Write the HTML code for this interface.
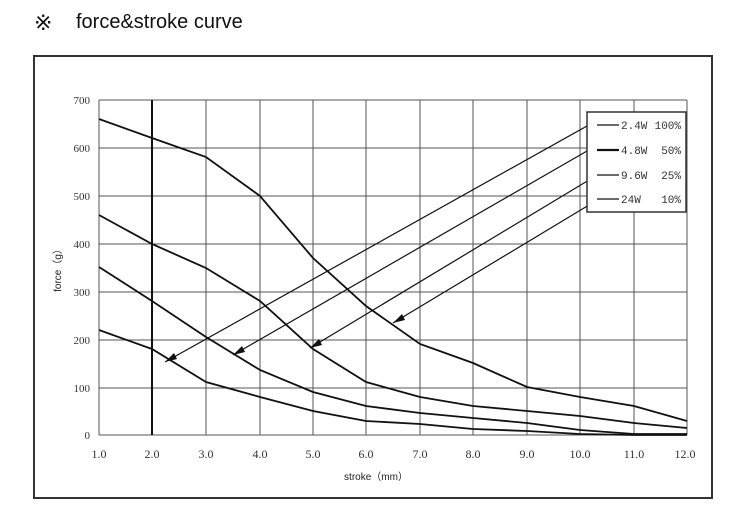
<!DOCTYPE html>
<html><head><meta charset="utf-8"><style>
body{margin:0;background:#fff;width:750px;height:516px;overflow:hidden}
svg{display:block}
</style></head><body>
<svg width="750" height="516" xmlns="http://www.w3.org/2000/svg" font-family="Liberation Sans, sans-serif">
<text x="34" y="30" font-size="22" fill="#111">※</text>
<text x="76" y="28" font-size="20" fill="#111">force&amp;stroke curve</text>
<rect x="34" y="56" width="678" height="442" fill="none" stroke="#333" stroke-width="2"/>
<g stroke="#555" stroke-width="1">
<line x1="99" y1="100" x2="687" y2="100"/><line x1="99" y1="148" x2="687" y2="148"/>
<line x1="99" y1="196" x2="687" y2="196"/><line x1="99" y1="244" x2="687" y2="244"/>
<line x1="99" y1="292" x2="687" y2="292"/><line x1="99" y1="340" x2="687" y2="340"/>
<line x1="99" y1="388" x2="687" y2="388"/><line x1="99" y1="435" x2="687" y2="435"/>
<line x1="99" y1="100" x2="99" y2="435"/><line x1="206" y1="100" x2="206" y2="435"/>
<line x1="260" y1="100" x2="260" y2="435"/><line x1="313" y1="100" x2="313" y2="435"/>
<line x1="366" y1="100" x2="366" y2="435"/><line x1="420" y1="100" x2="420" y2="435"/>
<line x1="473" y1="100" x2="473" y2="435"/><line x1="527" y1="100" x2="527" y2="435"/>
<line x1="580" y1="100" x2="580" y2="435"/><line x1="634" y1="100" x2="634" y2="435"/>
<line x1="687" y1="100" x2="687" y2="435"/>
</g>
<line x1="152" y1="100" x2="152" y2="435" stroke="#111" stroke-width="2"/>
<g fill="none" stroke="#111" stroke-width="1.8">
<polyline points="99,119 152,138 206,157 260,196 313,258 366,306 420,344 473,363 527,387 580,397 634,406 687,421"/>
<polyline points="99,215 152,244 206,268 260,301 313,349 366,382 420,397 473,406 527,411 580,416 634,423 687,428"/>
<polyline points="99,267 152,301 206,337 260,370 313,392 366,406 420,413 473,418 527,423 580,430 634,434 687,434"/>
<polyline points="99,330 152,349 206,382 260,397 313,411 366,421 420,424 473,429 527,431 580,434 634,435 687,435"/>
</g>
<g stroke="#111" stroke-width="1.2">
<line x1="587" y1="126" x2="165" y2="362"/>
<line x1="587" y1="151" x2="233" y2="355"/>
<line x1="589" y1="180" x2="310" y2="348"/>
<line x1="589" y1="205" x2="393" y2="323"/>
</g>
<g fill="#111">
<polygon points="165,362 174,353 177,359"/>
<polygon points="233,355 242,346 245,352"/>
<polygon points="310,348 319,339 322,345"/>
<polygon points="393,323 402,314 405,320"/>
</g>
<rect x="587" y="112" width="99" height="100" fill="#fff" stroke="#333" stroke-width="1.5"/>
<g stroke="#111"><line x1="597" y1="125" x2="619" y2="125" stroke-width="1.3"/><line x1="597" y1="150" x2="619" y2="150" stroke-width="2.2"/><line x1="597" y1="175" x2="619" y2="175" stroke-width="1.3"/><line x1="597" y1="199" x2="619" y2="199" stroke-width="1.3"/></g>
<g font-family="Liberation Mono, monospace" font-size="11" fill="#333">
<text x="621" y="129">2.4W</text><text x="621" y="154">4.8W</text>
<text x="621" y="179">9.6W</text><text x="621" y="203">24W</text>
</g>
<g font-family="Liberation Mono, monospace" font-size="11" fill="#333" text-anchor="end">
<text x="681" y="129">100%</text><text x="681" y="154">50%</text>
<text x="681" y="179">25%</text><text x="681" y="203">10%</text>
</g>
<g font-family="Liberation Serif, serif" font-size="11" fill="#333" text-anchor="end">
<text x="90" y="104">700</text><text x="90" y="152">600</text><text x="90" y="200">500</text>
<text x="90" y="248">400</text><text x="90" y="296">300</text><text x="90" y="344">200</text>
<text x="90" y="392">100</text><text x="90" y="439">0</text>
</g>
<g font-family="Liberation Serif, serif" font-size="12" fill="#333" text-anchor="middle">
<text x="99" y="458">1.0</text><text x="152" y="458">2.0</text><text x="206" y="458">3.0</text>
<text x="260" y="458">4.0</text><text x="313" y="458">5.0</text><text x="366" y="458">6.0</text>
<text x="420" y="458">7.0</text><text x="473" y="458">8.0</text><text x="527" y="458">9.0</text>
<text x="580" y="458">10.0</text><text x="634" y="458">11.0</text><text x="685" y="458">12.0</text>
</g>
<text x="376" y="480" font-size="10" fill="#222" text-anchor="middle">stroke（mm）</text>
<text transform="translate(61,268) rotate(-90)" font-size="10" fill="#222" text-anchor="middle">force（g）</text>
</svg>
</body></html>
